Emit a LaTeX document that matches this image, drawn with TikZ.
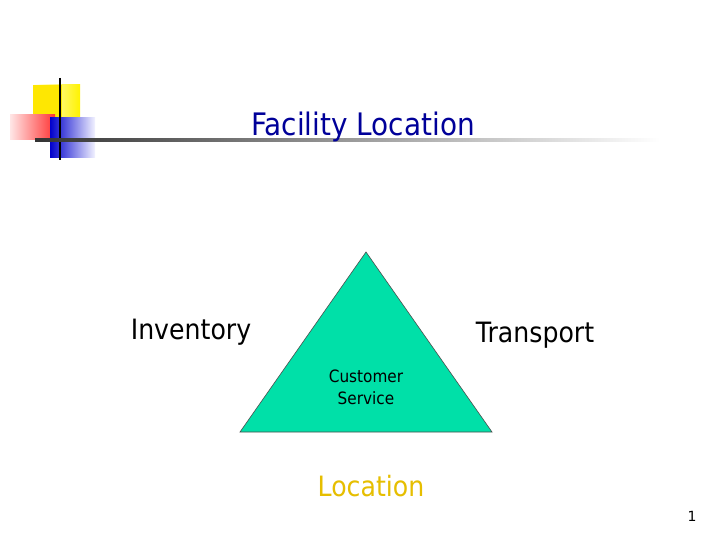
\documentclass[tikz,border=0pt]{standalone}
\usepackage{fontspec}
\setmainfont{DejaVu Sans}
\begin{document}
\begin{tikzpicture}[x=1pt,y=-1pt,
  lbl/.style={inner sep=0pt,anchor=center}]
\useasboundingbox (0,0) rectangle (720,540);
\fill[white] (0,0) rectangle (720,540);
% logo
\shade[left color=white,right color=yellow!90!orange] (33,85) rectangle (80,120);
\fill[yellow!90!orange] (33,85) rectangle (62,120);
\shade[left color=red!10,right color=red!80] (10,115) rectangle (55,140);
\shade[left color=blue!80!black,right color=blue!5] (50,118) rectangle (95,158);
\draw[line width=2pt] (60,78) -- (60,160);
\shade[left color=black!80,right color=white] (35,139) rectangle (660,141.5);
\node[lbl,text=blue!60!black,font=\fontsize{31}{36}\selectfont] (title) at (363,127) {\scalebox{0.9}[1]{Facility Location}};
% triangle
\coordinate (A) at (366,252);
\coordinate (B) at (240,432);
\coordinate (C) at (492,432);
\fill[fill={rgb,255:red,0;green,224;blue,168},draw=black!70,line width=0.6pt] (A) -- (C) -- (B) -- cycle;
\node[lbl,font=\fontsize{28}{32}\selectfont] (inv) at (191,332) {\scalebox{0.9}[1]{Inventory}};
\node[lbl,font=\fontsize{28}{32}\selectfont] (tr) at (535,335) {\scalebox{0.9}[1]{Transport}};
\node[lbl,align=center,font=\fontsize{17}{22}\selectfont] (cs) at (366,387) {\scalebox{0.9}[1]{Customer}\\\scalebox{0.9}[1]{Service}};
\node[lbl,text={rgb,255:red,230;green,190;blue,0},font=\fontsize{28}{32}\selectfont] (loc) at (371,486) {\scalebox{0.9}[1]{Location}};
\node[lbl,font=\fontsize{14}{16}\selectfont] (pg) at (692,516) {1};
\end{tikzpicture}
\end{document}
